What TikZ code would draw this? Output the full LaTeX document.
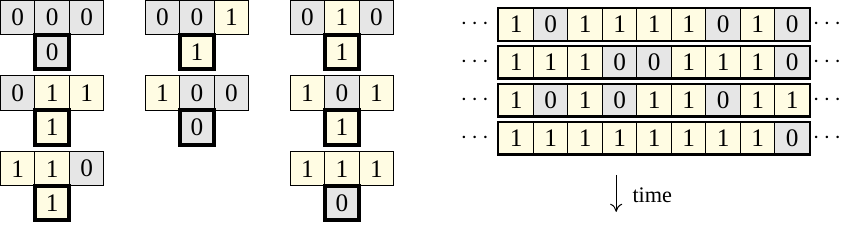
\documentclass[tikz,border=0pt]{standalone}
\usepackage{fontspec}
\setmainfont{Liberation Serif}
\usetikzlibrary{arrows.meta, positioning, fit}
\definecolor{bit0}{HTML}{E6E6E6}
\definecolor{bit1}{HTML}{FFFCE3}
\tikzset{
  every picture/.style={line width=0.5pt},
  cell/.style={draw, inner sep=0pt, outer sep=0pt, minimum width=0.6cm, minimum height=0.6cm, font=\fontsize{12.5}{13}\selectfont},
  bit/.style={cell, fill=bit#1},
  result/.style={bit=#1, line width=2pt},
  tape/.style={bit=#1, minimum height=0.54cm},
  tapeframe/.style={draw, inner sep=0.6pt, line width=0.8pt},
  dots/.style={font=\fontsize{12}{12}\selectfont, inner sep=0pt},
  timearrow/.style={-{To[length=4pt, width=6pt]}, line width=0.5pt},
  timelabel/.style={font=\fontsize{11}{11}\selectfont, inner sep=0pt},
}

\begin{document}
\begin{tikzpicture}[x=0.6cm, y=0.6cm]
  \useasboundingbox (0,0) rectangle (24.55,-6.493);
  % the eight neighbourhoods and their new value
  \foreach \a/\b/\c/\y/\i/\j in {0/0/0/0/0/0, 0/0/1/1/1/0, 0/1/0/1/2/0, 0/1/1/1/0/1,
                                 1/0/0/0/1/1, 1/0/1/1/2/1, 1/1/0/1/0/2, 1/1/1/0/2/2} {
    \node[bit=\a] (p\i\j-a) at (4.2*\i+0.51, -2.19*\j-0.51) {\a};
    \node[bit=\b, right=0pt of p\i\j-a] (p\i\j-b) {\b};
    \node[bit=\c, right=0pt of p\i\j-b] (p\i\j-c) {\c};
    \node[result=\y, below=0pt of p\i\j-b] (p\i\j-out) {\y};
  }
  % four successive rows of the tape
  \foreach \bits [count=\j] in {{1,0,1,1,1,1,0,1,0}, {1,1,1,0,0,1,1,1,0},
                                {1,0,1,0,1,1,0,1,1}, {1,1,1,1,1,1,1,1,0}} {
    \foreach \v [count=\i] in \bits {
      \node[tape=\v] (t\j-\i) at (13.96+\i, 0.39-1.1*\j) {\v};
    }
    \node[tapeframe, fit=(t\j-1)(t\j-9)] (row\j) {};
    \node[dots] (ldots\j) at (13.76, 0.39-1.1*\j) {$\cdots$};
    \node[dots] (rdots\j) at (23.97, 0.39-1.1*\j) {$\cdots$};
  }
  \coordinate (ttop) at (17.86,-5.07);
  \coordinate (tbot) at (17.86,-6.14);
  \draw[timearrow] (ttop) -- (tbot);
  \node[timelabel, anchor=west] (tlabel) at (18.32,-5.65) {time};
\end{tikzpicture}
\end{document}
